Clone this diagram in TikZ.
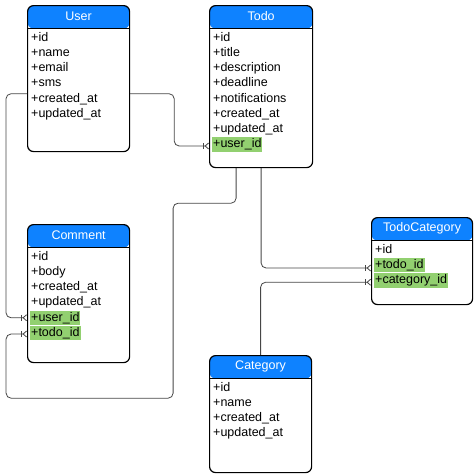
\documentclass[tikz,border=0pt]{standalone}
\usepackage{fontspec}
\setmainfont{Liberation Sans}
\usetikzlibrary{arrows.meta, calc, positioning}
\definecolor{hdrblue}{RGB}{14,130,255}
\definecolor{keygreen}{RGB}{146,208,112}
\definecolor{linkgray}{RGB}{70,70,70}
\tikzstyle{entity}=[draw, line width=1.2pt, rounded corners=6pt, anchor=north west, inner sep=0pt,
  path picture={\fill[hdrblue] (path picture bounding box.north west) rectangle ([yshift=-23pt]path picture bounding box.north east);
    \draw[line width=1.2pt] ([yshift=-23pt]path picture bounding box.north west) -- ([yshift=-23pt]path picture bounding box.north east);}]
\tikzstyle{title}=[text=white, inner sep=0pt, font=\fontsize{12.5}{14}\selectfont]
\tikzstyle{field}=[anchor=west, inner sep=1pt, text height=9.5pt, text depth=3pt, font=\fontsize{12.5}{14}\selectfont]
\tikzstyle{plain}=[]
\tikzstyle{fk}=[fill=keygreen]
\tikzstyle{link}=[draw=linkgray, line width=0.8pt, rounded corners=5pt,
  -{Bar[width=6pt,sep=1pt]Straight Barb[reversed,length=3.5pt,width=6pt]}]

\begin{document}
\begin{tikzpicture}[x=1pt, y=-1pt]
  \useasboundingbox (0,0) rectangle (474,475);

  % tables
  \node[entity, minimum width=102pt, minimum height=146pt] (user) at (27,5) {};
  \node[title] at ([yshift=-11.5pt]user.north) {User};
  \foreach \f/\s [count=\i] in {id/plain, name/plain, email/plain, sms/plain, created\_at/plain, updated\_at/plain}
    \node[field,\s] (user-\i) at ($(user.north west)+(3,{17.5+15.25*\i})$) {+\f};

  \node[entity, minimum width=103pt, minimum height=162pt] (todo) at (209,5) {};
  \node[title] at ([yshift=-11.5pt]todo.north) {Todo};
  \foreach \f/\s [count=\i] in {id/plain, title/plain, description/plain, deadline/plain, notifications/plain, created\_at/plain, updated\_at/plain, user\_id/fk}
    \node[field,\s] (todo-\i) at ($(todo.north west)+(3,{17.5+15.25*\i})$) {+\f};

  \node[entity, minimum width=102pt, minimum height=138pt] (comment) at (27,224) {};
  \node[title] at ([yshift=-11.5pt]comment.north) {Comment};
  \foreach \f/\s [count=\i] in {id/plain, body/plain, created\_at/plain, updated\_at/plain, user\_id/fk, todo\_id/fk}
    \node[field,\s] (comment-\i) at ($(comment.north west)+(3,{17.5+15.25*\i})$) {+\f};

  \node[entity, minimum width=101pt, minimum height=87pt] (todocat) at (371,217) {};
  \node[title] at ([yshift=-11.5pt]todocat.north) {TodoCategory};
  \foreach \f/\s [count=\i] in {id/plain, todo\_id/fk, category\_id/fk}
    \node[field,\s] (todocat-\i) at ($(todocat.north west)+(3,{17.5+15.25*\i})$) {+\f};

  \node[entity, minimum width=102pt, minimum height=117pt] (category) at (209,355) {};
  \node[title] at ([yshift=-11.5pt]category.north) {Category};
  \foreach \f/\s [count=\i] in {id/plain, name/plain, created\_at/plain, updated\_at/plain}
    \node[field,\s] (category-\i) at ($(category.north west)+(3,{17.5+15.25*\i})$) {+\f};

  % relations
  \path[link] ([yshift=5pt]user-5.west -| user.west) -- ++(-21,0) |- (comment-5.west -| comment.west);
  \path[link] ([yshift=5pt]user-5.west -| user.east) -- ++(44,0) |- ([yshift=-1.5pt]todo-8.west -| todo.west);
  \path[link] ([xshift=-25pt]todo.south) -- ++(0,35) -| ++(-63,195) -- ++(-167,0) |- ([yshift=-1pt]comment-6.west -| comment.west);
  \path[link] (todo.south) |- ([yshift=-3pt]todocat-2.west -| todocat.west);
  \path[link] (category.north) |- ([yshift=-2pt]todocat-3.west -| todocat.west);
\end{tikzpicture}
\end{document}
